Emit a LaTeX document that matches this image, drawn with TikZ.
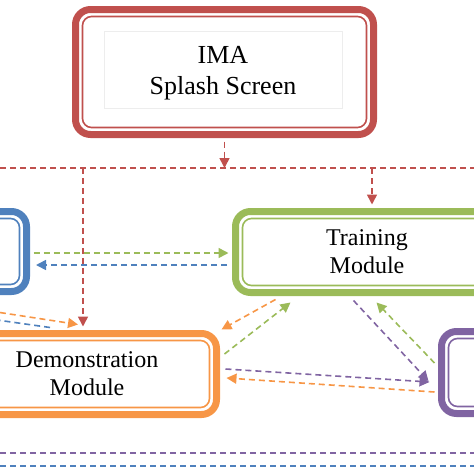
\documentclass[tikz,border=0pt]{standalone}
\usepackage{fontspec}
\setmainfont{Liberation Serif}
\usetikzlibrary{arrows.meta,calc}
\definecolor{cRed}{HTML}{C0504D}
\definecolor{cGreen}{HTML}{9BBB59}
\definecolor{cBlue}{HTML}{4F81BD}
\definecolor{cOrange}{HTML}{F79646}
\definecolor{cPurple}{HTML}{8064A2}
\begin{document}
\begin{tikzpicture}[x=1pt,y=-1pt,
  mod/.style={draw=#1, line width=7pt, rounded corners=15pt, fill=white, inner sep=0pt,
    font=\fontsize{24}{28}\selectfont, align=center,
    path picture={\draw[#1, line width=1.6pt, rounded corners=9pt]
      ([shift={(7pt,-7pt)}]path picture bounding box.north west) rectangle
      ([shift={(-7pt,7pt)}]path picture bounding box.south east);}},
  link/.style={draw=#1, line width=1.6pt, dash pattern=on 6pt off 4pt},
  tip/.style={-{Triangle[length=10pt,width=10pt]}}
]
\useasboundingbox (0,0) rectangle (474,474);
\clip (0,0) rectangle (474,474);

% modules
\node[mod=cRed, minimum width=298pt, minimum height=125pt] (splash) at (224.5,72) {};
\node[draw=black!7, line width=0.6pt, minimum width=238pt, minimum height=77pt] (splashbox) at (223,69.5) {};
\node[font=\fontsize{26}{31}\selectfont, align=center, inner sep=0pt] (splashtxt) at (223,73) {IMA\\Splash Screen};
\node[mod=cBlue, minimum width=146.5pt, minimum height=80pt] (blue) at (-46.75,251.5) {};
\node[mod=cGreen, minimum width=263pt, minimum height=81pt] (train) at (367,252) {Training\\Module};
\node[mod=cOrange, minimum width=259pt, minimum height=81pt] (demo) at (87,374) {Demonstration\\Module};
\node[mod=cPurple, minimum width=158.5pt, minimum height=82pt] (purple) at (520.75,372.5) {};

% free ends
\coordinate (rL) at (0,168);
\coordinate (rR) at (474,168);
\coordinate (rJ) at (83,168);
\coordinate (rK) at (372,168);
\coordinate (oL) at (-10,311);
\coordinate (bL) at (-10,319);
\coordinate (pL) at (0,453);
\coordinate (pR) at (474,453);
\coordinate (qL) at (0,466);
\coordinate (qR) at (474,466);

% red distribution
\draw[link=cRed, tip] ([yshift=-3.5pt]splash.south) -- (splash.south |- rL);
\draw[link=cRed] (rL) -- (rR);
\draw[link=cRed, tip, shorten >=3.5pt] (rJ) -- (rJ |- demo.north);
\draw[link=cRed, tip, shorten >=3.5pt] (rK) -- (rK |- train.north);

% blue <-> training
\draw[link=cGreen, tip] ($(blue.east)+(3.5,1.5)$) -- ($(train.west)+(-3.5,1)$);
\draw[link=cBlue, tip] ($(train.west)+(-5,13)$) -- ($(blue.east)+(6,13.5)$);

% training <-> demonstration
\draw[link=cOrange, tip] ($(train.south west)+(43.5,3.5)$) -- ($(demo.north east)+(1.5,-0.5)$);
\draw[link=cGreen, tip] ($(demo.east)+(4.5,-20)$) -- ($(train.south west)+(58.5,6.5)$);

% training <-> purple
\draw[link=cPurple, tip] ($(train.south west)+(121.5,4.5)$) -- ($(purple.west)+(-9.5,8.5)$);
\draw[link=cGreen, tip] ($(purple.west)+(-3.5,-9.5)$) -- ($(train.south west)+(144.5,6.5)$);

% demonstration <-> purple
\draw[link=cPurple, tip] ($(demo.east)+(5.5,-5)$) -- ($(purple.west)+(-8.5,9.5)$);
\draw[link=cOrange, tip] ($(purple.west)+(-3.5,19.5)$) -- ($(demo.east)+(6.5,4)$);

% left side
\draw[link=cOrange, tip] (oL) -- ($(demo.north)+(-9,-5.5)$);
\draw[link=cBlue] ($(demo.north)+(-37,-2.5)$) -- (bL);

% bottom
\draw[link=cPurple] (pL) -- (pR);
\draw[link=cBlue] (qL) -- (qR);
\end{tikzpicture}
\end{document}
